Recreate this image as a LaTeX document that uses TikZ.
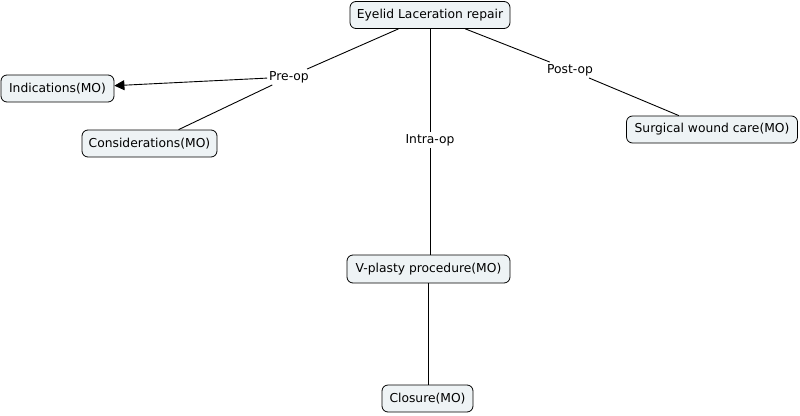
\documentclass[tikz,border=0pt]{standalone}
\usepackage{fontspec}
\setmainfont{DejaVu Sans}
\usetikzlibrary{arrows.meta}
\begin{document}
\begin{tikzpicture}[x=1pt,y=-1pt,
  concept/.style={draw=black,line width=0.8pt,rounded corners=6pt,fill={rgb,255:red,238;green,243;blue,245},
    minimum height=27pt,inner xsep=3pt,font=\fontsize{12.3}{14}\selectfont},
  linklbl/.style={inner sep=2pt,font=\fontsize{12.3}{14}\selectfont},
  conn/.style={line width=0.9pt}]
\useasboundingbox (0,0) rectangle (800,415);
\node[concept,minimum width=160pt] (eye) at (430,15) {Eyelid Laceration repair};
\node[concept,minimum width=113pt] (ind) at (57.5,88.5) {Indications(MO)};
\node[concept,minimum width=135pt] (con) at (149.5,143.5) {Considerations(MO)};
\node[concept,minimum width=171pt] (sur) at (712,129.5) {Surgical wound care(MO)};
\node[concept,minimum width=163pt,minimum height=28pt] (vpl) at (428.5,269) {V-plasty procedure(MO)};
\node[concept,minimum width=91pt] (clo) at (427.5,398.5) {Closure(MO)};
\node[linklbl] (pre) at (289,77) {Pre-op};
\node[linklbl] (post) at (570,70) {Post-op};
\node[linklbl] (intra) at (430,140) {Intra-op};
\draw[conn] (eye) -- (pre);
\draw[conn,-{Triangle[length=10pt,width=10pt]}] (pre) -- (ind);
\draw[conn] (pre) -- (con);
\draw[conn] (eye) -- (post);
\draw[conn] (post) -- (sur);
\draw[conn] (eye.south -| intra) -- (intra);
\draw[conn] (intra) -- (vpl.north -| intra);
\draw[conn] (vpl) -- (clo.north -| vpl);
\end{tikzpicture}
\end{document}
